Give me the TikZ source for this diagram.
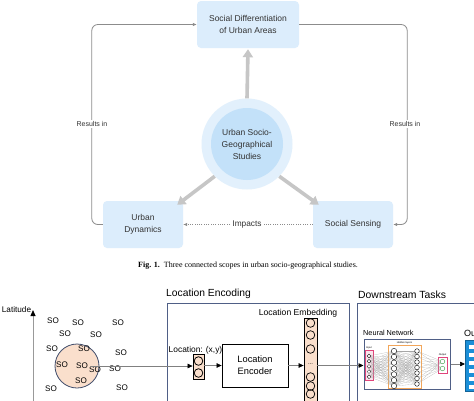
\documentclass[tikz,border=0pt]{standalone}
\usepackage{fontspec}
\setmainfont{Liberation Sans}
\newfontfamily\capfont{Liberation Serif}
\usetikzlibrary{arrows.meta,calc}
\definecolor{boxblue}{HTML}{DCEDFC}
\definecolor{ringblue}{HTML}{E2F0FC}
\definecolor{coreblue}{HTML}{C3E1F9}
\definecolor{thickgray}{HTML}{C6C6C6}
\definecolor{loopgray}{HTML}{8C8C8C}
\definecolor{txt}{HTML}{333333}
\definecolor{peach}{HTML}{FADFCC}
\definecolor{frameblue}{HTML}{4F5F86}
\definecolor{nnpink}{HTML}{E0457B}
\definecolor{nnorange}{HTML}{F2A65A}
\definecolor{outblue}{HTML}{1B8FD8}
\definecolor{nngreen}{HTML}{3FA34D}
\tikzset{
  topbox/.style={fill=boxblue, rounded corners=4pt, minimum width=102pt, minimum height=47pt, align=center, text=txt, font=\fontsize{8.5}{12}\selectfont},
  botbox/.style={topbox, minimum width=80pt},
  fat/.style={draw=thickgray, line width=3.6pt, -{Triangle[width=10pt,length=8pt]}},
  loopline/.style={draw=loopgray, line width=0.8pt, rounded corners=6pt, -{Latex[length=4pt,width=3.5pt]}},
  looplabel/.style={fill=white, text=txt, font=\fontsize{7}{8}\selectfont, inner sep=1pt},
  so/.style={font=\fontsize{8.1}{9}\selectfont, inner sep=0pt},
  feed/.style={draw=gray, line width=0.6pt, -{Triangle[length=5pt,width=4.5pt,color=black]}},
  frame/.style={draw=frameblue, line width=1pt},
  nnline/.style={draw=gray!70, line width=0.12pt}
}
\begin{document}
\begin{tikzpicture}[x=1pt,y=-1pt]
\useasboundingbox (0,0) rectangle (474,400);
\fill[white] (0,0) rectangle (474,400);

% ---------- top figure ----------
\node[topbox] (top) at (248,24.5) {Social Differentiation\\of Urban Areas};
\node[botbox] (ud) at (143,224.5) {Urban\\Dynamics};
\node[botbox] (ss) at (353,224.5) {Social Sensing};
\node[circle, fill=ringblue, minimum size=91pt, inner sep=0pt] (c) at (247,144) {};
\node[circle, fill=coreblue, minimum size=72pt, inner sep=0pt, align=center, text=txt, font=\fontsize{8.5}{12}\selectfont] (core) at (c.center) {Urban Socio-\\Geographical\\Studies};

\draw[fat] (c.north) -- ([yshift=-1pt]top.south);
\draw[fat] (c.225) -- ([xshift=-6pt,yshift=-4pt]ud.north east);
\draw[fat] (c.315) -- ([xshift=6pt,yshift=-4pt]ss.north west);

\draw[loopline] (ud.west) -- ([xshift=-11pt]ud.west) |- (top.west);
\draw[loopline] (top.east) -| ([xshift=14pt]ss.east) -- (ss.east);
\node[looplabel] (rl) at (92,124) {Results in};
\node[looplabel] (rr) at (405,124) {Results in};

\draw[draw=loopgray, line width=0.7pt, dash pattern=on 1pt off 1.3pt, -{Latex[length=4pt,width=3.5pt]}] (ss.west) -- (ud.east);
\node[fill=white, text=txt, font=\fontsize{8.3}{9}\selectfont, inner sep=1.5pt] (imp) at (247,224) {Impacts};

\node[font=\capfont\fontsize{8}{9}\selectfont] (cap) at (248,266) {\textbf{Fig. 1.}\enspace Three connected scopes in urban socio-geographical studies.};

% ---------- bottom figure ----------
\begin{scope}
\clip (0,0) rectangle (474,400);
\draw[draw=gray!80, line width=0.8pt, -{Triangle[length=6pt,width=5pt,color=black]}] (33,410) -- (33,310);
\node[font=\fontsize{8.2}{9}\selectfont, inner sep=0pt] (lat) at (16.5,310) {Latitude};

\node[circle, fill=peach, draw=frameblue!80!black, line width=0.8pt, minimum size=44pt, inner sep=0pt] (region) at (77,366) {};
\foreach \x/\y [count=\k] in {53/321,78/323,118/323,65/334,96/335,52/349,84/349,121/353,62/365,115/369,81/381,51/389,122/388,95/370}
  \node[so] (so\k) at (\x,\y) {SO};
\node[so] (soc) at (82,366) {SO};

% Location encoding frame
\draw[frame] (167,410) |- (349,303) -- (349,410);
\node[anchor=west, font=\fontsize{10.3}{12}\selectfont, inner sep=0pt] (le) at (166,294) {Location Encoding};
\node[draw=black, fill=peach, line width=0.8pt, minimum width=11pt, minimum height=25pt, inner sep=0pt] (lin) at (198.5,367) {};
\draw[line width=0.8pt] (198.5,361) circle (4.3pt) (198.5,373) circle (4.3pt);
\node[font=\fontsize{8.4}{10}\selectfont, inner sep=0pt] (locl) at (195.5,350.5) {Location: (x,y)};
\node[draw=black, line width=0.8pt, minimum width=66pt, minimum height=43pt, align=center, font=\fontsize{9.3}{12}\selectfont] (enc) at (255,365.5) {Location\\Encoder};
\node[draw=black, fill=peach, line width=0.8pt, minimum width=13pt, minimum height=100pt, inner sep=0pt, anchor=north] (emb) at (310.5,318) {};
\foreach \y in {323,335,349,377,386,394} \draw[line width=0.7pt] (310.5,\y) circle (4.3pt);
\node[font=\fontsize{6}{6}\selectfont, inner sep=0pt] (dots) at (310.5,364) {...};
\node[font=\fontsize{8.6}{10}\selectfont, inner sep=0pt] (embl) at (298,313) {Location Embedding};

\coordinate (soe) at ([xshift=3pt]soc.east);
\draw[feed] (soe) -- (lin.west |- soe);
\draw[feed] (lin.east |- enc.west) -- (enc.west);
\draw[feed] (enc.east) -- (enc.east -| emb.west);

% Downstream frame
\draw[frame] (357,410) |- (480,303);
\node[anchor=west, font=\fontsize{10.4}{12}\selectfont, inner sep=0pt] (dt) at (358,295) {Downstream Tasks};
\node[anchor=west, font=\fontsize{7.3}{9}\selectfont, inner sep=0pt] (nnl) at (363,333) {Neural Network};
\node[frame, minimum width=86pt, minimum height=50pt, inner sep=0pt] (nn) at (407,364) {};
\draw[feed] (enc.east -| emb.east) -- (enc.east -| nn.west);

% network internals
\draw[nnorange, line width=0.6pt] (388,345) rectangle (421,388);
\draw[nnpink, fill=nnpink!15, line width=0.6pt] (365,350) rectangle (373,380);
\draw[nnpink, line width=0.6pt] (438,357) rectangle (447,373);
\foreach \i in {0,...,4} \foreach \j in {0,...,6}
  \draw[nnline] (369,356+5.2*\i) -- (394,351+5.83*\j);
\foreach \i in {0,...,6} \foreach \j in {0,...,6}
  \draw[nnline] (394,351+5.83*\i) -- (417,351+5.5*\j);
\foreach \i in {0,...,6} \foreach \j in {0,1}
  \draw[nnline] (417,351+5.5*\i) -- (442.5,361.5+7*\j);
\foreach \i in {0,...,4} \draw[fill=white, line width=0.3pt] (369,356+5.2*\i) circle (1.9pt);
\foreach \i in {0,...,6} \draw[fill=white, line width=0.4pt] (394,351+5.83*\i) circle (2.7pt);
\foreach \i in {0,...,6} \draw[fill=white, line width=0.4pt] (417,351+5.5*\i) circle (2.3pt);
\foreach \j in {0,1} \draw[nngreen, fill=white, line width=0.4pt] (442.5,361.5+7*\j) circle (2.3pt);
\node[font=\fontsize{2.5}{3}\selectfont, inner sep=0pt] (inl) at (369,348) {Input};
\node[font=\fontsize{2.5}{3}\selectfont, inner sep=0pt] (hidl) at (404.5,343) {Hidden layers};
\node[font=\fontsize{2.5}{3}\selectfont, inner sep=0pt] (outl) at (442.5,355) {Output};

% output block
\node[fill=outblue, draw=outblue!70!black, line width=0.6pt, minimum width=20pt, minimum height=51pt, inner sep=0pt, anchor=north west] (out) at (465,340) {};
\foreach \y in {347,355,363,371,379,387} \fill[white] (468.5,\y-1.8) rectangle (480,\y+1.8);
\draw[feed] (nn.east) -- (nn.east -| out.west);
\node[anchor=west, font=\fontsize{9}{10}\selectfont, inner sep=0pt] (outt) at (464,334) {Output};
\end{scope}
\end{tikzpicture}
\end{document}
